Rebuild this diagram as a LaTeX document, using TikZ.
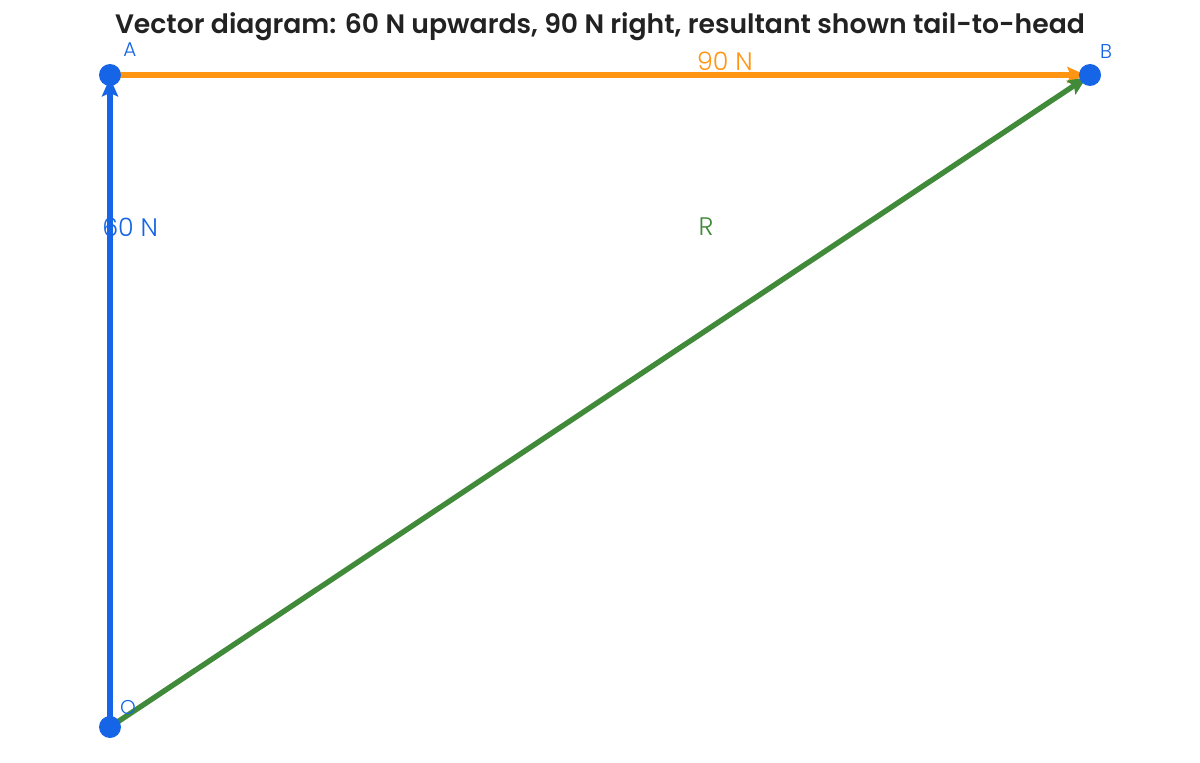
\documentclass[tikz,border=0pt]{standalone}
\usepackage{fontspec}
\setmainfont{Poppins}[BoldFont={* SemiBold}]
\newfontfamily\lightfont{Poppins Light}
\usetikzlibrary{arrows.meta}
\definecolor{cblue}{HTML}{1565E6}
\definecolor{corange}{HTML}{FF9512}
\definecolor{cgreen}{HTML}{418A3A}
\definecolor{ctitle}{HTML}{222222}
\tikzset{
  dot/.style={circle,fill=cblue,inner sep=0pt,minimum size=16.5pt},
  vec/.style={line width=#1,-{Stealth[length=14pt,width=12pt,inset=2.5pt]}},
  lbl/.style={inner sep=0pt,font=\lightfont\fontsize{15}{17}\selectfont},
  biglbl/.style={inner sep=0pt,font=\lightfont\fontsize{19}{21}\selectfont}
}
\begin{document}
\begin{tikzpicture}[x=0.75pt,y=-0.75pt]
\useasboundingbox (0,0) rectangle (1200,763);
\coordinate (O) at (110,727);
\coordinate (A) at (110,75);
\coordinate (B) at (1090,75);
\draw[vec=4.5pt,cblue,shorten >=2pt] (O) -- (A);
\draw[vec=4pt,corange,shorten >=3pt] (A) -- (B);
\draw[vec=4pt,cgreen,shorten >=3pt] (O) -- (B);
\node[dot] (dO) at (O) {};
\node[dot] (dA) at (A) {};
\node[dot] (dB) at (B) {};
\node[lbl,text=cblue] (lA) at (130,50) {A};
\node[lbl,text=cblue] (lB) at (1106,52) {B};
\node[lbl,text=cblue] (lO) at (128,707) {O};
\node[biglbl,text=cblue,anchor=west] (l60) at (102,227) {60 N};
\node[biglbl,text=corange] (l90) at (725,61) {90 N};
\node[biglbl,text=cgreen] (lR) at (706,227) {R};
\node[inner sep=0pt,text=ctitle,font=\fontsize{20}{22}\selectfont\bfseries] (title) at (600,27) {Vector diagram: 60 N upwards, 90 N right, resultant shown tail-to-head};
\end{tikzpicture}
\end{document}
